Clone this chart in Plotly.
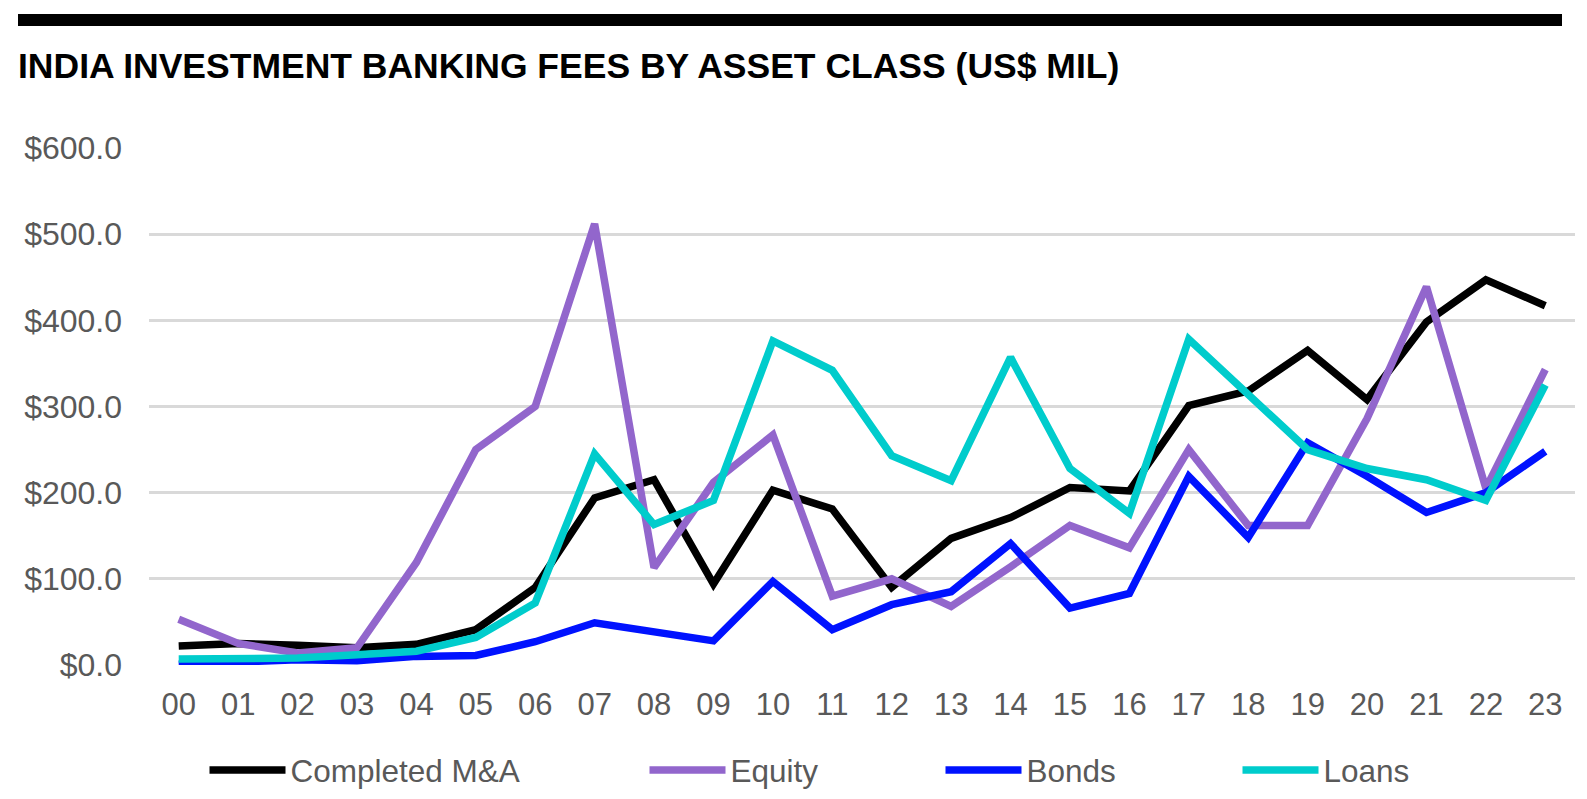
import plotly.graph_objects as go

years = ["00", "01", "02", "03", "04", "05", "06", "07", "08", "09", "10", "11",
         "12", "13", "14", "15", "16", "17", "18", "19", "20", "21", "22", "23"]

completed_ma = [22, 25, 23, 20, 24, 41, 90, 194, 215, 94, 203, 181,
                90, 147, 171, 206, 202, 301, 318, 365, 308, 398, 447, 417]
equity = [53, 25, 14, 20, 119, 250, 300, 512, 113, 212, 267, 80,
          100, 68, 114, 162, 136, 250, 162, 162, 286, 439, 205, 343]
bonds = [1, 3, 6, 5, 10, 11, 27, 49, 38, 28, 97, 41,
         70, 85, 141, 66, 83, 219, 148, 258, 219, 177, 200, 248]
loans = [7, 8, 8, 12, 16, 32, 72, 245, 163, 191, 376, 342,
         243, 214, 357, 228, 176, 378, 313, 250, 228, 215, 191, 325]

series_names = ["Completed M&A", "Equity", "Bonds", "Loans"]
series_values = [completed_ma, equity, bonds, loans]
series_colors = ["#000000", "#9266CC", "#0012FF", "#00CCCC"]
legend_ids = ["legend", "legend2", "legend3", "legend4"]
legend_x_px = [204.5, 644.5, 940.5, 1237.5]

W, H = 1587, 799
ML, MR, MT, MB = 149, 12, 148, 134
FONT = "Liberation Sans, Arial, sans-serif"

fig = go.Figure()
for name, vals, col, lid in zip(series_names, series_values, series_colors, legend_ids):
    fig.add_trace(go.Scatter(
        x=years, y=vals, name=name, mode="lines",
        line=dict(color=col, width=7.5), cliponaxis=False,
        legend=lid, hoverinfo="skip"))

legend_common = dict(
    orientation="h", xref="container", yref="container",
    yanchor="middle", xanchor="left", y=1 - 770 / H,
    font=dict(family=FONT, size=31.5, color="#595959"),
    itemwidth=76, bgcolor="rgba(0,0,0,0)", borderwidth=0,
)
legends = {}
for lid, xp in zip(legend_ids, legend_x_px):
    legends[lid] = dict(legend_common, x=xp / W)

pw, ph = W - ML - MR, H - MT - MB
fig.update_layout(
    width=W, height=H,
    margin=dict(l=ML, r=MR, t=MT, b=MB),
    paper_bgcolor="white", plot_bgcolor="white",
    showlegend=True,
    font=dict(family=FONT, color="#595959"),
    title=dict(
        text="<b>INDIA INVESTMENT BANKING FEES BY ASSET CLASS (US$ MIL)</b>",
        font=dict(family=FONT, size=35.5, color="#000000"),
        xref="container", yref="container",
        x=18 / W, xanchor="left", y=1 - 66 / H, yanchor="middle"),
    xaxis=dict(
        type="category", range=[-0.5, 23.5], showgrid=False, zeroline=False,
        showline=False, ticks="", tickfont=dict(family=FONT, size=31, color="#595959"),
        ticklabelstandoff=18, fixedrange=True, automargin=False),
    yaxis=dict(
        range=[0, 600], tickvals=[0, 100, 200, 300, 400, 500, 600],
        tickformat="$.1f", showgrid=True, gridcolor="#D9D9D9", gridwidth=3,
        zeroline=False, showline=False, ticks="",
        tickfont=dict(family=FONT, size=32, color="#595959"),
        ticklabelstandoff=26, fixedrange=True, automargin=False),
    shapes=[dict(type="rect", xref="paper", yref="paper",
                 x0=(18 - ML) / pw, x1=(1562 - ML) / pw,
                 y0=1 + (MT - 26) / ph, y1=1 + (MT - 14) / ph,
                 fillcolor="#000000", line=dict(width=0), layer="above")],
    **legends,
)

fig.write_html("out.html", config={"displayModeBar": False},
               post_script="document.body.style.margin='0';document.body.style.overflow='hidden';")
